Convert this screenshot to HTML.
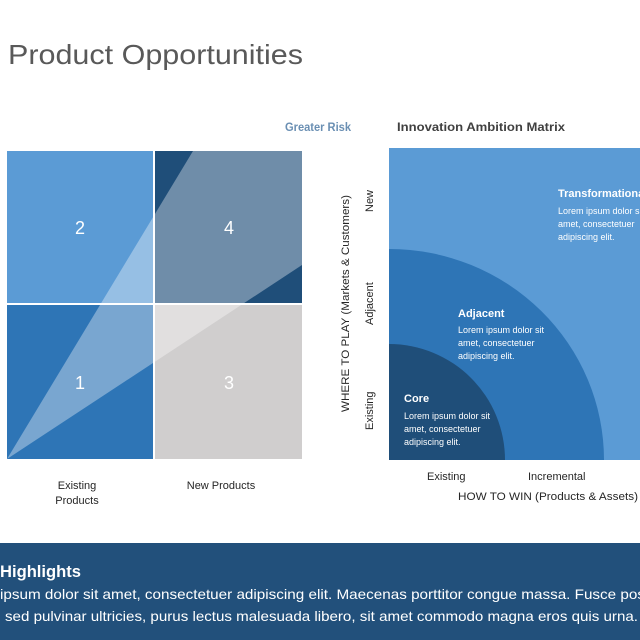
<!DOCTYPE html>
<html><head><meta charset="utf-8"><style>
html,body{margin:0;padding:0;background:#fff;}
svg{display:block;font-family:"Liberation Sans",sans-serif;}
</style></head><body>
<svg width="640" height="640" viewBox="0 0 640 640" xmlns="http://www.w3.org/2000/svg">
<rect width="640" height="640" fill="#fff"/>
<text x="8" y="64" font-size="28" fill="#595959" textLength="295" lengthAdjust="spacingAndGlyphs">Product Opportunities</text>
<text x="285" y="131" font-size="11.5" font-weight="bold" fill="#6a8fb3" textLength="66" lengthAdjust="spacingAndGlyphs">Greater Risk</text>
<text x="397" y="131" font-size="12" font-weight="bold" fill="#404040" textLength="168" lengthAdjust="spacingAndGlyphs">Innovation Ambition Matrix</text>

<!-- left 2x2 -->
<rect x="7" y="151" width="146" height="152" fill="#5b9bd5"/>
<rect x="155" y="151" width="147" height="152" fill="#1f4e79"/>
<rect x="7" y="305" width="146" height="154" fill="#2e75b6"/>
<rect x="155" y="305" width="147" height="154" fill="#d0cece"/>
<clipPath id="sq"><rect x="7" y="151" width="146" height="152"/><rect x="155" y="151" width="147" height="152"/><rect x="7" y="305" width="146" height="154"/><rect x="155" y="305" width="147" height="154"/></clipPath>
<polygon points="7,459 193,151 302,151 302,265" fill="#fff" fill-opacity="0.36" clip-path="url(#sq)"/>
<g font-size="18" fill="#fff" text-anchor="middle">
<text x="80" y="234">2</text><text x="229" y="234">4</text>
<text x="80" y="389">1</text><text x="229" y="389">3</text>
</g>
<g font-size="11" fill="#262626" text-anchor="middle">
<text x="77" y="489">Existing</text><text x="77" y="504">Products</text>
<text x="221" y="489">New Products</text>
</g>

<!-- right matrix -->
<rect x="389" y="148" width="251" height="312" fill="#5b9bd5"/>
<path d="M389,460 L389,249 A215,211 0 0 1 604,460 Z" fill="#2e75b6"/>
<path d="M389,460 L389,344 A116,116 0 0 1 505,460 Z" fill="#1f4e79"/>
<g fill="#fff">
<text x="558" y="197" font-size="11" font-weight="bold">Transformational</text>
<text x="558" y="214" font-size="9">Lorem ipsum dolor sit</text>
<text x="558" y="227" font-size="9">amet, consectetuer</text>
<text x="558" y="240" font-size="9">adipiscing elit.</text>
<text x="458" y="317" font-size="11" font-weight="bold">Adjacent</text>
<text x="458" y="333" font-size="9">Lorem ipsum dolor sit</text>
<text x="458" y="346" font-size="9">amet, consectetuer</text>
<text x="458" y="359" font-size="9">adipiscing elit.</text>
<text x="404" y="402" font-size="11" font-weight="bold">Core</text>
<text x="404" y="419" font-size="9">Lorem ipsum dolor sit</text>
<text x="404" y="432" font-size="9">amet, consectetuer</text>
<text x="404" y="445" font-size="9">adipiscing elit.</text>
</g>
<g font-size="11" fill="#262626">
<text transform="translate(349,412) rotate(-90)" textLength="217" lengthAdjust="spacingAndGlyphs">WHERE TO PLAY (Markets &amp; Customers)</text>
<text transform="translate(373,430) rotate(-90)">Existing</text>
<text transform="translate(373,325) rotate(-90)">Adjacent</text>
<text transform="translate(373,212) rotate(-90)">New</text>
<text x="427" y="480">Existing</text>
<text x="528" y="480">Incremental</text>
<text x="458" y="500" textLength="180" lengthAdjust="spacingAndGlyphs">HOW TO WIN (Products &amp; Assets)</text>
</g>

<!-- banner -->
<rect x="0" y="543" width="640" height="97" fill="#22507b"/>
<text x="0" y="577" font-size="17" font-weight="bold" fill="#fff" textLength="81" lengthAdjust="spacingAndGlyphs">Highlights</text>
<text x="0" y="599" font-size="14" fill="#fff" textLength="645" lengthAdjust="spacingAndGlyphs">ipsum dolor sit amet, consectetuer adipiscing elit.  Maecenas porttitor congue massa. Fusce pos</text>
<text x="5" y="621" font-size="14" fill="#fff" textLength="633" lengthAdjust="spacingAndGlyphs">sed pulvinar ultricies, purus lectus malesuada libero, sit amet commodo magna eros quis urna.</text>
</svg>
</body></html>
